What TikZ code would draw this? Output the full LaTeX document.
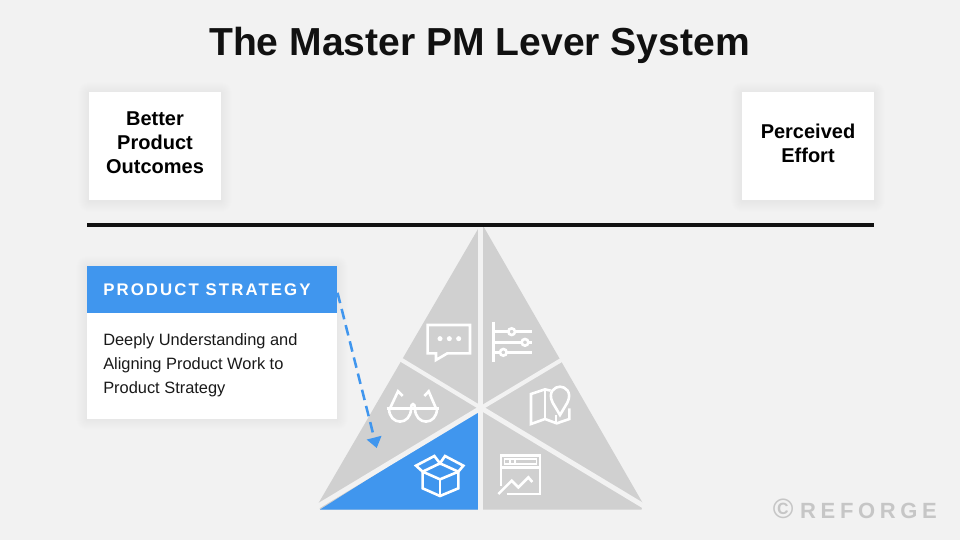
\documentclass[tikz,border=0pt]{standalone}
\usepackage{fontspec}
\setmainfont{Liberation Sans}
\newfontfamily\spacedfont[LetterSpace=12.5]{Liberation Sans}
\newfontfamily\logofont[LetterSpace=21]{Liberation Sans}
\usetikzlibrary{arrows.meta}
\definecolor{bgc}{HTML}{F2F2F2}
\definecolor{greyc}{HTML}{D0D0D0}
\definecolor{bluec}{HTML}{4096EE}
\definecolor{inkc}{HTML}{111111}
\definecolor{logoc}{HTML}{C6C6C6}
\newcommand{\softshadow}[4]{%
  \foreach \d in {1,2,...,11} {
    \fill[black,opacity=0.0055,rounded corners=\d*0.75pt]
      ({#1-\d},{#2-\d+1}) rectangle ({#3+\d},{#4+\d+1});
  }}
\tikzset{
  iconline/.style={draw=white,line width=1.95pt,line join=miter,line cap=butt},
  gapline/.style={draw=bgc,line width=3.1pt},
  labelbox/.style={fill=white,inner sep=0pt,minimum width=99pt,minimum height=81pt},
  labeltext/.style={inner sep=0pt,align=center,font=\fontsize{15}{18}\selectfont\bfseries},
  bodytext/.style={inner sep=0pt,anchor=base west,font=\fontsize{12.3}{18}\selectfont,text=black!90}
}
\begin{document}
\begin{tikzpicture}[x=0.75pt,y=-0.75pt]
\useasboundingbox (0,0) rectangle (960,540);
\fill[bgc] (0,0) rectangle (960,540);
\node[inner sep=0pt,anchor=base,font=\fontsize{29.3}{36}\selectfont\bfseries,text=inkc] (title) at (479.5,55) {The Master PM Lever System};

\softshadow{89}{92}{221}{200}
\softshadow{742}{92}{874}{200}
\node[labelbox] (outcomes) at (155,146) {};
\node[labelbox] (effort) at (808,146) {};
\node[labeltext] (outcomestext) at (155,143) {Better\\Product\\Outcomes};
\node[labeltext] (efforttext) at (808,143) {Perceived\\Effort};

% Pyramid
\coordinate (apex) at (481.5,223);
\coordinate (mid) at (481,408);
\coordinate (base) at (481,509.5);
\fill[greyc] (apex) -- (643,503.5) -- (641.5,509.5) -- (320,509.5) -- (318.3,503.5) -- cycle;
\fill[bluec] (320,509.5) -- (mid) -- (base) -- cycle;
\draw[gapline,line width=3.4pt] (480.5,222) -- (480.5,512);
\draw[gapline,line width=3.7pt] (300,517) -- (mid) -- (662,517);
\draw[gapline] (mid) -- (395,356);
\draw[gapline] (mid) -- (568,356);
\draw[inkc,line width=3pt] (87,225) -- (874,225);

% Chat icon
\begin{scope}[shift={(310,220)},x=0.25pt,y=-0.25pt]
\draw[iconline] (378,400) -- (353,400) -- (353,315) -- (480,315) -- (480,400) -- (412,400) -- (378,420) -- cycle;
\fill[white] (390,356) circle[radius=1.9pt] (418,356) circle[radius=1.9pt] (446,356) circle[radius=1.9pt];
% Sliders
\draw[iconline] (550,305) -- (550,426);
\draw[iconline] (550,335) -- (665,335) (550,367) -- (665,367) (550,397) -- (665,397);
\draw[iconline,fill=greyc] (605,335) circle[radius=2.5pt] (645,367) circle[radius=2.5pt] (580,397) circle[radius=2.5pt];
% Glasses
\draw[iconline] (230,565) -- (388,565);
\draw[iconline] (237,565) .. controls (237,618) and (303,618) .. (303,565);
\draw[iconline] (315,565) .. controls (315,618) and (381,618) .. (381,565);
\draw[iconline] (303,565) .. controls (303,548) and (315,548) .. (315,565);
\draw[iconline] (240,565) -- (264,514) -- (278,528);
\draw[iconline] (378,565) -- (356,514) -- (343,528);
% Map
\draw[iconline] (722,512) -- (705,508) -- (663,522) -- (663,612) -- (705,597) -- (740,610) -- (778,597) -- (778,565);
\draw[iconline] (705,508) -- (705,597);
\draw[iconline] (750,585) -- (728,548) .. controls (712,515) and (735,500) .. (750,500) .. controls (765,500) and (788,515) .. (772,548) -- cycle;
\draw[iconline] (738,585) -- (738,606);
\end{scope}

% Box icon and chart icon
\begin{scope}[shift={(400,420)},x=0.25pt,y=-0.25pt]
\draw[iconline] (68,155) -- (120,178) -- (175,155) -- (175,205) -- (120,228) -- (68,205) -- cycle;
\draw[iconline] (120,178) -- (120,228);
\draw[iconline] (68,155) -- (120,130) -- (175,155);
\draw[iconline] (68,155) -- (48,137) -- (103,108) -- (120,130) -- (135,108) -- (190,137) -- (175,155);
\draw[iconline] (320,222) -- (420,222) -- (420,107) -- (303,107) -- (303,197);
\draw[iconline] (303,142) -- (420,142);
\draw[draw=white,line width=1.2pt] (313,117) rectangle (410,132) (330,117) -- (330,132) (345,117) -- (345,132);
\draw[iconline] (295,222) -- (335,182) -- (355,202) -- (385,172) -- (397,186);
\end{scope}

% Card
\softshadow{87}{266}{337}{418}
\node[fill=white,inner sep=0pt,minimum width=187.5pt,minimum height=79pt,anchor=north west] (body) at (87,313) {};
\node[fill=bluec,inner sep=0pt,minimum width=187.5pt,minimum height=35.25pt,anchor=north west] (header) at (87,266) {};
\node[inner sep=0pt,anchor=base west,text=white,font=\fontsize{12.6}{16}\selectfont\bfseries\spacedfont] (headtext) at (103,295.5) {PRODUCT STRATEGY};
\node[bodytext] (l1) at (103,345) {Deeply Understanding and};
\node[bodytext] (l2) at (103,369) {Aligning Product Work to};
\node[bodytext] (l3) at (103,393) {Product Strategy};

% Connector
\coordinate (tipc) at (376.7,448);
\draw[bluec,line width=1.9pt,dash pattern=on 8pt off 4.5pt,-{Triangle[length=8pt,width=11pt]}] (header.east) ++(0,3) -- (tipc);

% Logo
\node[inner sep=0pt,anchor=base east,text=logoc,font=\fontsize{16.5}{20}\selectfont\bfseries\logofont] (logo) at (937,518) {{\fontsize{21}{20}\selectfont ©}\hspace{5pt}REFORGE};
\end{tikzpicture}
\end{document}
